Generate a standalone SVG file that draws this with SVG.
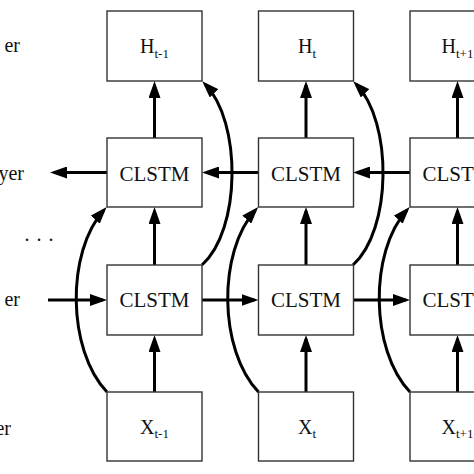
<svg xmlns="http://www.w3.org/2000/svg" width="474" height="474" viewBox="0 0 474 474">
<style>
.box{fill:#fff;stroke:#333;stroke-width:1.4}
.lbl{font-family:"Liberation Serif","Times New Roman",serif;font-size:20px;fill:#111;text-anchor:middle}
.cl{font-size:21px}
.sub{font-size:13px}
.side{font-family:"Liberation Serif","Times New Roman",serif;font-size:20px;fill:#111;text-anchor:end}
.ar{fill:none;stroke:#000;stroke-width:3;marker-end:url(#ah)}
</style>
<defs>
<marker id="ah" markerUnits="userSpaceOnUse" markerWidth="17" markerHeight="12" refX="13" refY="6" orient="auto">
<path d="M0,0 L17,6 L0,12 Z" fill="#000"/>
</marker>
</defs>
<g id="labels">
<text class="side" x="20" y="52">er</text>
<text class="side" x="24" y="180">yer</text>
<text class="side" x="24.5" y="241" style="text-anchor:start;letter-spacing:7px">...</text>
<text class="side" x="20" y="306">er</text>
<text class="side" x="11" y="435">er</text>
</g>
<g id="connectors">
<line class="ar" x1="154.5" y1="138" x2="154.5" y2="85"/>
<line class="ar" x1="306" y1="138" x2="306" y2="85"/>
<line class="ar" x1="457.5" y1="138" x2="457.5" y2="85"/>
<line class="ar" x1="154.5" y1="265" x2="154.5" y2="211"/>
<line class="ar" x1="306" y1="265" x2="306" y2="211"/>
<line class="ar" x1="457.5" y1="265" x2="457.5" y2="211"/>
<line class="ar" x1="154.5" y1="392" x2="154.5" y2="339"/>
<line class="ar" x1="306" y1="392" x2="306" y2="339"/>
<line class="ar" x1="457.5" y1="392" x2="457.5" y2="339"/>
<line class="ar" x1="107" y1="172.5" x2="54" y2="172.5"/>
<line class="ar" x1="258.5" y1="172.5" x2="206" y2="172.5"/>
<line class="ar" x1="410" y1="172.5" x2="357" y2="172.5"/>
<line class="ar" x1="48" y1="300" x2="103" y2="300"/>
<line class="ar" x1="202" y1="300" x2="254.5" y2="300"/>
<line class="ar" x1="353" y1="300" x2="406" y2="300"/>
<path class="ar" d="M107,392 C67,350 66,252 104,210"/>
<path class="ar" d="M258.5,392 C218.5,350 217.5,252 255.5,210"/>
<path class="ar" d="M410,392 C370,350 369,252 407,210"/>
<path class="ar" d="M202,265 C241,230 242,122 205,84"/>
<path class="ar" d="M353,265 C392,230 393,122 356,84"/>
</g>
<g id="h1"><rect class="box" x="107" y="11" width="95" height="70"/><text class="lbl" x="154.5" y="53">H<tspan class="sub" dy="5">t-1</tspan></text></g>
<g id="h2"><rect class="box" x="258.5" y="11" width="95" height="70"/><text class="lbl" x="307" y="53">H<tspan class="sub" dy="5">t</tspan></text></g>
<g id="h3"><rect class="box" x="410" y="11" width="95" height="70"/><text class="lbl" x="457.5" y="53">H<tspan class="sub" dy="5">t+1</tspan></text></g>
<g id="c1a"><rect class="box" x="107" y="138" width="95" height="69"/><text class="lbl cl" x="154.5" y="181">CLSTM</text></g>
<g id="c2a"><rect class="box" x="258.5" y="138" width="95" height="69"/><text class="lbl cl" x="306" y="181">CLSTM</text></g>
<g id="c3a"><rect class="box" x="410" y="138" width="95" height="69"/><text class="lbl cl" x="457.5" y="181">CLSTM</text></g>
<g id="c1b"><rect class="box" x="107" y="265" width="95" height="70"/><text class="lbl cl" x="154.5" y="307">CLSTM</text></g>
<g id="c2b"><rect class="box" x="258.5" y="265" width="95" height="70"/><text class="lbl cl" x="306" y="307">CLSTM</text></g>
<g id="c3b"><rect class="box" x="410" y="265" width="95" height="70"/><text class="lbl cl" x="457.5" y="307">CLSTM</text></g>
<g id="x1"><rect class="box" x="107" y="392" width="95" height="69"/><text class="lbl" x="154.5" y="434">X<tspan class="sub" dy="4">t-1</tspan></text></g>
<g id="x2"><rect class="box" x="258.5" y="392" width="95" height="69"/><text class="lbl" x="307" y="434">X<tspan class="sub" dy="4">t</tspan></text></g>
<g id="x3"><rect class="box" x="410" y="392" width="95" height="69"/><text class="lbl" x="457.5" y="434">X<tspan class="sub" dy="4">t+1</tspan></text></g>
</svg>
